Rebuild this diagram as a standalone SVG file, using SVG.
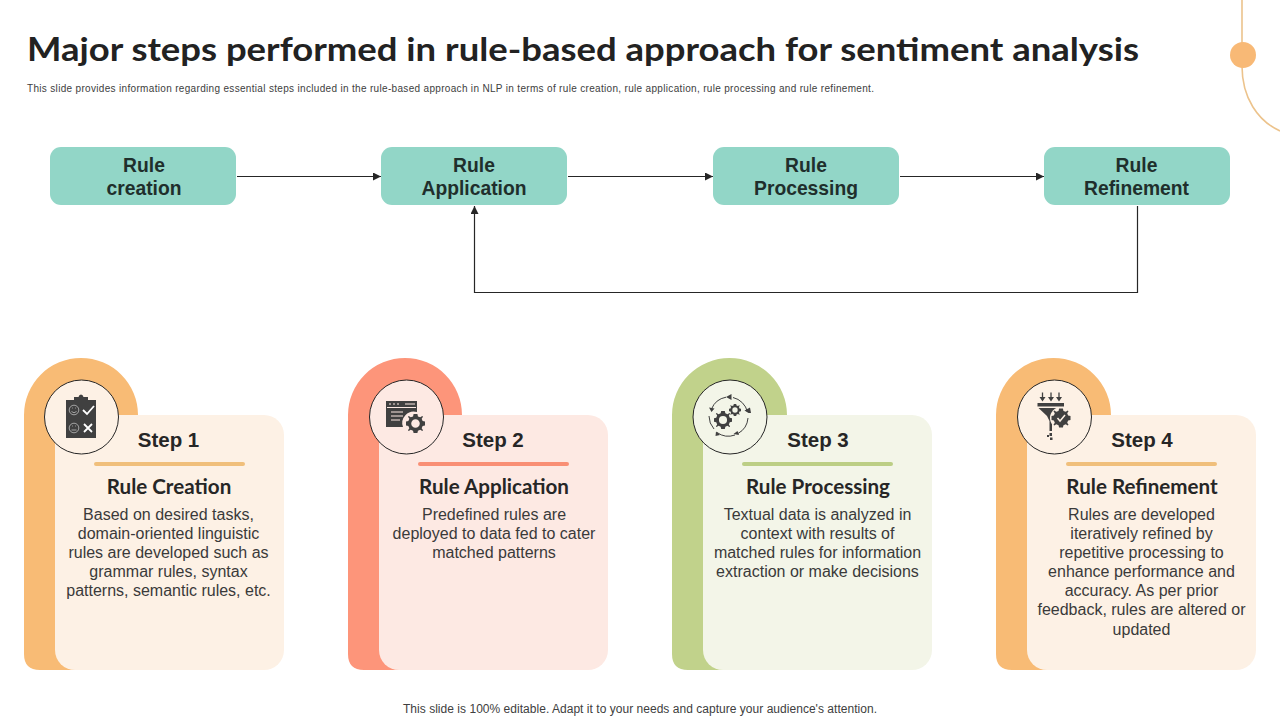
<svg xmlns="http://www.w3.org/2000/svg" width="1280" height="720" viewBox="0 0 1280 720">
<style>
text{font-family:"Liberation Sans",Arial,sans-serif;fill:#262626;text-anchor:middle}
.title{font-family:"Lato","Liberation Sans",sans-serif;font-weight:700;font-size:33px;text-anchor:start;fill:#222}
.sub{font-size:10px;text-anchor:start;fill:#404040}
.foot{font-size:12px;fill:#404040}
.box{fill:#92d6c7}
.boxt{font-size:19.300px;font-weight:700;fill:#1f2f2c}
.step{font-size:20.500px;font-weight:700}
.head{font-family:"Lato","Liberation Sans",sans-serif;font-size:20.600px;font-weight:700}
.body{font-size:16px;fill:#3a3a3a}
.conn{fill:none;stroke:#262626;stroke-width:1.200;marker-end:url(#arr)}
.ic{fill:#404040}
.icl{fill:none;stroke:#404040}
.ring{stroke:#262626;stroke-width:1}
</style>
<defs>
<marker id="arr" markerUnits="userSpaceOnUse" markerWidth="9" markerHeight="9" refX="8" refY="4" orient="auto"><path d="M0 0L8 4L0 8Z" fill="#262626"/></marker>
<g id="gear"><path d="M-2-10H2L2.600-7.500 5-6.500 7.100-7.900 7.900-7.100 6.500-5 7.500-2.600 10-2V2L7.500 2.600 6.500 5 7.900 7.100 7.100 7.900 5 6.500 2.600 7.500 2 10H-2L-2.600 7.500-5 6.500-7.100 7.900-7.900 7.100-6.500 5-7.500 2.600-10 2V-2L-7.500-2.600-6.500-5-7.900-7.100-7.100-7.900-5-6.500-2.600-7.500Z M0-4.500A4.500 4.500 0 1 0 0 4.500A4.500 4.500 0 1 0 0-4.500Z" fill-rule="evenodd"/></g>
</defs>
<text class="title" x="27" y="61" textLength="1112" lengthAdjust="spacingAndGlyphs">Major steps performed in rule-based approach for sentiment analysis</text>
<text class="sub" x="27" y="92" textLength="847" lengthAdjust="spacing">This slide provides information regarding essential steps included in the rule-based approach in NLP  in terms of rule creation, rule application, rule processing and rule refinement.</text>
<g id="decor">
<path d="M1242 0V66C1242 98 1258 121 1280 131" fill="none" stroke="#ecc38c" stroke-width="1.600"/>
<circle cx="1243" cy="55" r="13" fill="#f8b976"/>
</g>
<g id="connectors">
<path class="conn" d="M237 176.500H381"/>
<path class="conn" d="M568 176.500H713"/>
<path class="conn" d="M900 176.500H1044"/>
<path class="conn" d="M1137.500 206V292.500H474.500V206"/>
</g>
<g id="node-rule-creation"><rect class="box" x="50" y="147" width="186" height="58" rx="11"/><text class="boxt" x="144" y="172">Rule</text><text class="boxt" x="144" y="195">creation</text></g>
<g id="node-rule-application"><rect class="box" x="381" y="147" width="186" height="58" rx="11"/><text class="boxt" x="474" y="172">Rule</text><text class="boxt" x="474" y="195">Application</text></g>
<g id="node-rule-processing"><rect class="box" x="713" y="147" width="186" height="58" rx="11"/><text class="boxt" x="806" y="172">Rule</text><text class="boxt" x="806" y="195">Processing</text></g>
<g id="node-rule-refinement"><rect class="box" x="1044" y="147" width="186" height="58" rx="11"/><text class="boxt" x="1136.500" y="172">Rule</text><text class="boxt" x="1136.500" y="195">Refinement</text></g>

<g id="step-1">
<path d="M138 416V415A57 57 0 0 0 24 415V654Q24 670 40 670H80V416Z" fill="#f8bb75"/>
<rect x="55" y="415" width="229" height="255" rx="20" fill="#fdf1e5"/>
<circle class="ring" cx="81.500" cy="417" r="37" fill="#fdf1e5"/>
<g><path class="ic" d="M66 400H74V397H78.500Q79 394.500 81 394.500T83.500 397H88V400H96V438H66Z"/>
<g fill="none" stroke="#fff" stroke-width=".7" opacity=".75"><circle cx="74" cy="410" r="4.800"/><circle cx="74" cy="428" r="4.800"/><path d="M71.500 411.500Q74 414 76.500 411.500M71.500 430H76.500M72 408H72.800M75.200 408H76M72 426H72.800M75.200 426H76"/></g>
<path d="M83 410L87 414 94 406M84 424L92 432M92 424L84 432" fill="none" stroke="#fff" stroke-width="1.800"/></g>
<text class="step" x="168.500" y="447">Step 1</text>
<rect x="94" y="462" width="151" height="4" rx="2" fill="#f0bf7b"/>
<text class="head" x="169" y="494">Rule Creation</text>
<text class="body" x="168.500" y="520">Based on desired tasks,</text>
<text class="body" x="168.500" y="539">domain-oriented linguistic</text>
<text class="body" x="168.500" y="558">rules are developed such as</text>
<text class="body" x="168.500" y="577">grammar rules, syntax</text>
<text class="body" x="168.500" y="596">patterns, semantic rules, etc.</text>
</g>

<g id="step-2">
<path d="M462 416V415A57 57 0 0 0 348 415V654Q348 670 364 670H404V416Z" fill="#fd957a"/>
<rect x="379" y="415" width="229" height="255" rx="20" fill="#fde9e3"/>
<circle class="ring" cx="406.500" cy="417" r="37" fill="#fde9e3"/>
<g><path class="ic" d="M386 401H417V412A11.500 11.500 0 0 0 403 427H386Z"/>
<path d="M389 404H391M393 404H395M397 404H399M405 404H415M387 407.500H416M391 412H403M391 416H403M391 420H400" stroke="#fde9e3" stroke-width="1" fill="none"/>
<use href="#gear" transform="translate(415.500 423.500) scale(.95)" class="ic"/></g>
<text class="step" x="493" y="447">Step 2</text>
<rect x="418" y="462" width="151" height="4" rx="2" fill="#f98f75"/>
<text class="head" x="494" y="494">Rule Application</text>
<text class="body" x="494" y="520">Predefined rules are</text>
<text class="body" x="494" y="539">deployed to data fed to cater</text>
<text class="body" x="494" y="558">matched patterns</text>
</g>

<g id="step-3">
<path d="M787 416V415A57.500 57 0 0 0 672 415V654Q672 670 688 670H728V416Z" fill="#c1d28b"/>
<rect x="703" y="415" width="229" height="255" rx="20" fill="#f3f5e8"/>
<circle class="ring" cx="730" cy="417" r="37" fill="#f3f5e8"/>
<g><use href="#gear" transform="translate(723 420) scale(.9)" class="ic"/><use href="#gear" transform="translate(735 410) scale(.6)" class="ic"/>
<path class="icl" stroke-width="1" d="M711.500 409A19.500 19.500 0 0 1 726 397.200M733 397.500A19.500 19.500 0 0 1 747.500 412M748 418A19.500 19.500 0 0 1 738 433.500M735 435A19.500 19.500 0 0 1 717 432.500M714 429A19.500 19.500 0 0 1 709 416"/>
<path class="ic" d="M726 397L731.500 394V400ZM748.500 413L744.500 410.500 750 407.500 751 413ZM739 435L737.500 431 733.500 434ZM716 431.500L715.500 436 720 435ZM711.500 412L714.500 408.500 709 407.500Z"/></g>
<text class="step" x="818" y="447">Step 3</text>
<rect x="742" y="462" width="151" height="4" rx="2" fill="#bcce85"/>
<text class="head" x="818" y="494">Rule Processing</text>
<text class="body" x="817.500" y="520">Textual data is analyzed in</text>
<text class="body" x="817.500" y="539">context with results of</text>
<text class="body" x="817.500" y="558">matched rules for information</text>
<text class="body" x="817.500" y="577">extraction or make decisions</text>
</g>

<g id="step-4">
<path d="M1111 416V415A57.500 57 0 0 0 996 415V654Q996 670 1012 670H1052V416Z" fill="#f8bb75"/>
<rect x="1027" y="415" width="229" height="255" rx="20" fill="#fdf1e5"/>
<circle class="ring" cx="1054.500" cy="417" r="37" fill="#fdf1e5"/>
<g><path class="icl" stroke-width="1.300" d="M1042.500 392.500V399M1051 392.500V399M1059 392.500V399"/>
<path class="ic" d="M1039.500 397H1045.500L1042.500 401.500ZM1048 397H1054L1051 401.500ZM1056 397H1062L1059 401.500Z"/>
<path class="ic" d="M1037.500 403H1064V406.500H1037.500ZM1038.500 408H1063L1054.500 416 1052 421V431H1049.500V421L1047 416Z"/>
<path class="ic" d="M1049.500 433H1052V436H1049.500ZM1050 437.500h2.500v2.500h-2.500ZM1047 435h2v2h-2Z"/>
<circle cx="1061" cy="418" r="11" fill="#fdf1e5"/>
<use href="#gear" transform="translate(1061 418) scale(.95)" class="ic"/>
<circle cx="1061" cy="418" r="5" fill="#404040"/>
<path d="M1057.500 418L1060 421 1065 415" fill="none" stroke="#fdf1e5" stroke-width="1.500"/></g>
<text class="step" x="1142" y="447">Step 4</text>
<rect x="1066" y="462" width="151" height="4" rx="2" fill="#f0bf7b"/>
<text class="head" x="1142" y="494">Rule Refinement</text>
<text class="body" x="1141.500" y="520">Rules are developed</text>
<text class="body" x="1141.500" y="539">iteratively refined by</text>
<text class="body" x="1141.500" y="558">repetitive processing to</text>
<text class="body" x="1141.500" y="577">enhance performance and</text>
<text class="body" x="1141.500" y="596">accuracy. As per prior</text>
<text class="body" x="1141.500" y="615">feedback, rules are altered or</text>
<text class="body" x="1141.500" y="635">updated</text>
</g>
<text class="foot" x="640" y="713" textLength="474" lengthAdjust="spacing">This slide is 100% editable. Adapt it to your needs and capture your audience's attention.</text>
</svg>
